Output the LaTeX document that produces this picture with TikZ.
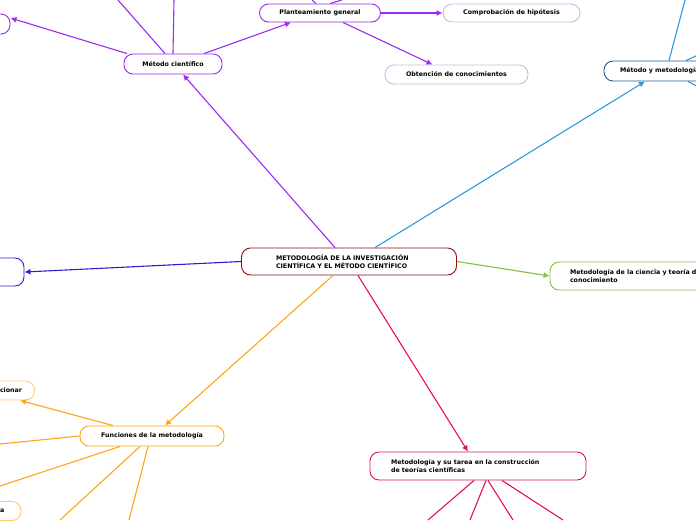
\documentclass[tikz,border=0pt]{standalone}
\usepackage{fontspec}
\setmainfont{DejaVu Sans}
\usetikzlibrary{arrows.meta}
\definecolor{cRoot}{HTML}{8B1010}
\definecolor{cPurple}{HTML}{9B2BF0}
\definecolor{cLilac}{HTML}{C9B8E8}
\definecolor{cBlue}{HTML}{2A9BDF}
\definecolor{cBlueD}{HTML}{1F5A92}
\definecolor{cIndigo}{HTML}{2A1FCF}
\definecolor{cGreen}{HTML}{86BF45}
\definecolor{cOrange}{HTML}{FFA515}
\definecolor{cOrangeL}{HTML}{FFC870}
\definecolor{cCrimson}{HTML}{E0105A}
\tikzset{
  topic/.style={draw, rounded corners=9pt, line width=0.9pt, fill=white,
    font=\bfseries\fontsize{6.3}{7.5}\selectfont, align=left, inner sep=0pt},
  link/.style={line width=1.1pt},
  tip/.style={link, -{Latex[length=6pt,width=6pt]}}
}
\begin{document}
\begin{tikzpicture}[x=1pt,y=-1pt]
  \useasboundingbox (0,0) rectangle (696,520);
  \clip (0,0) rectangle (696,520);

  % free ends
  \coordinate (p1) at (118,0);
  \coordinate (p2) at (174,0);
  \coordinate (p3) at (312,0);
  \coordinate (p4) at (342,0);
  \coordinate (b1) at (685,0);
  \coordinate (b2) at (700,54);
  \coordinate (b3) at (700,88);
  \coordinate (f1) at (0,444);
  \coordinate (f2) at (0,486);
  \coordinate (f3) at (60,520);
  \coordinate (f4) at (129,520);
  \coordinate (t1) at (428,520);
  \coordinate (t2) at (470,520);
  \coordinate (t3) at (513,520);
  \coordinate (t4) at (563,520);

  % nodes
  \node[topic, draw=cRoot, minimum width=215, minimum height=27, text width=146] (root) at (349,261.5)
    {METODOLOGÍA DE LA INVESTIGACIÓN\\CIENTÍFICA Y EL MÉTODO CIENTÍFICO};
  \node[topic, draw=cPurple, minimum width=98, minimum height=20] (metodo) at (173,64) {Método científico};
  \node[topic, draw=cPurple, minimum width=121, minimum height=18] (plan) at (320,13) {Planteamiento general};
  \node[topic, draw=cLilac, minimum width=137, minimum height=18] (comp) at (511.5,13) {Comprobación de hipótesis};
  \node[topic, draw=cLilac, minimum width=143, minimum height=19] (obt) at (456.5,74.5) {Obtención de conocimientos};
  \node[topic, draw=cPurple, minimum width=60, minimum height=20] (mleft) at (-20,24) {};
  \node[topic, draw=cBlueD, minimum width=130, minimum height=20, text width=98] (mym) at (669,71) {Método y metodología};
  \node[topic, draw=cIndigo, minimum width=70, minimum height=28] (bleft) at (-11,272) {};
  \node[topic, draw=cGreen, minimum width=190, minimum height=28, text width=150] (ciencia) at (645,276)
    {Metodología de la ciencia y teoría del\\conocimiento};
  \node[topic, draw=cOrange, minimum width=144, minimum height=20] (func) at (152,436) {Funciones de la metodología};
  \node[topic, draw=cOrangeL, minimum width=80, minimum height=19, anchor=east] (osel) at (35,390.5) {\hspace*{20pt}Seleccionar\hspace*{6pt}};
  \node[topic, draw=cOrangeL, minimum width=60, minimum height=19] (oa) at (-9,511) {};
  \node[topic, draw=cCrimson, minimum width=216, minimum height=28, text width=174] (tarea) at (478,466)
    {Metodología y su tarea en la construcción\\de teorías científicas};
  \node[anchor=west, font=\bfseries\fontsize{6.3}{7.5}\selectfont, inner sep=0pt] (oatxt) at (0,511) {a};

  % root branches
  \draw[tip, cPurple] ([xshift=-14pt]root.north) -- ([xshift=10pt]metodo.south);
  \draw[tip, cBlue] ([xshift=26pt]root.north) -- ([xshift=-24pt]mym.south);
  \draw[tip, cIndigo] (root.west) -- (bleft.east);
  \draw[tip, cGreen] (root.east) -- (ciencia.west);
  \draw[tip, cOrange] ([xshift=-16pt]root.south) -- ([xshift=13pt]func.north);
  \draw[tip, cCrimson] ([xshift=9pt]root.south) -- ([xshift=-10pt]tarea.north);

  % method branch
  \draw[tip, cPurple] ([xshift=-46pt]metodo.north) -- ([yshift=6pt]mleft.east);
  \draw[tip, cPurple] ([xshift=31pt]metodo.north) -- ([xshift=-29pt]plan.south);
  \draw[link, cPurple] ([xshift=-8pt]metodo.north) -- (p1);
  \draw[link, cPurple] (metodo.north) -- (p2);
  \draw[link, cPurple] ([xshift=-4pt]plan.north) -- (p3);
  \draw[link, cPurple] ([xshift=10pt]plan.north) -- (p4);
  \draw[tip, cPurple] (plan.east) -- (comp.west);
  \draw[tip, cPurple] ([xshift=23pt]plan.south) -- ([xshift=-24pt]obt.north);

  % blue branch
  \draw[link, cBlue] (mym.north) -- (b1);
  \draw[link, cBlue] ([xshift=17pt]mym.north) -- (b2);
  \draw[link, cBlue] ([xshift=19pt]mym.south) -- (b3);

  % orange branch
  \draw[tip, cOrange] ([xshift=-39pt]func.north) -- ([xshift=-15pt]osel.south east);
  \draw[link, cOrange] (func.west) -- (f1);
  \draw[link, cOrange] ([xshift=-32pt]func.south) -- (f2);
  \draw[link, cOrange] ([xshift=-12pt]func.south) -- (f3);
  \draw[link, cOrange] ([xshift=-4pt]func.south) -- (f4);

  % crimson branch
  \draw[link, cCrimson] ([xshift=-4pt]tarea.south) -- (t1);
  \draw[link, cCrimson] ([xshift=8pt]tarea.south) -- (t2);
  \draw[link, cCrimson] ([xshift=10pt]tarea.south) -- (t3);
  \draw[link, cCrimson] ([xshift=24pt]tarea.south) -- (t4);
\end{tikzpicture}
\end{document}
